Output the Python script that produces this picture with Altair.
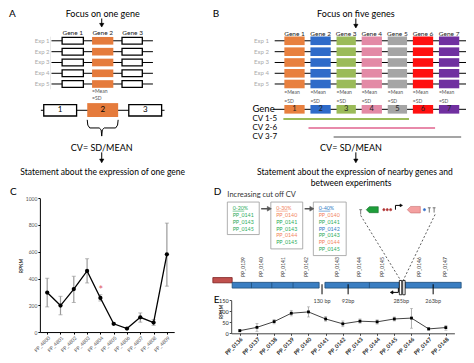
import altair as alt
import pandas as pd

W, H = 458, 347
SX, SY = W / 474, H / 363
FONT = "Lato"

# ---------------- data ----------------
c_genes = ["PP_4800", "PP_4801", "PP_4802", "PP_4803", "PP_4804",
           "PP_4805", "PP_4806", "PP_4807", "PP_4808", "PP_4809"]
c_mean = [295, 198, 321, 457, 255, 62, 26, 110, 71, 581]
c_low = [188, 129, 221, 367, 232, 55, 20, 74, 50, 343]
c_high = [402, 267, 417, 548, 279, 69, 32, 143, 93, 814]
c_ticks = [0, 200, 400, 600, 800, 1000]

e_genes = ["PP_0136", "PP_0137", "PP_0138", "PP_0139", "PP_0140", "PP_0141", "PP_0142",
           "PP_0143", "PP_0144", "PP_0145", "PP_0146", "PP_0147", "PP_0148"]
e_mean = [12, 27, 53, 91, 97, 65, 43, 55, 52, 65, 69, 20, 26]
e_low = [7, 9, 43, 79, 74, 55, 30, 46, 42, 56, 23, 14, 14]
e_high = [17, 45, 63, 104, 120, 76, 56, 65, 61, 74, 113, 26, 36]
e_ticks = [0, 50, 100, 150]

exp_labels = ["Exp 1", "Exp 2", "Exp 3", "Exp 4", "Exp 5"]
a_genes = ["Gene 1", "Gene 2", "Gene 3"]
b_genes = ["Gene 1", "Gene 2", "Gene 3", "Gene 4", "Gene 5", "Gene 6", "Gene 7"]
b_colors = ["#E8803F", "#2F6BC9", "#9BBB59", "#E38AA6", "#A5A5A5", "#FF1010", "#7030A0"]
cv_labels = ["CV 1-5", "CV 2-6", "CV 3-7"]
cv_colors = ["#9BBB59", "#E88AAA", "#A5A5A5"]
d_boxes = [
    [("0-20%", "g"), ("PP_0141", "g"), ("PP_0143", "g"), ("PP_0145", "g")],
    [("0-30%", "o"), ("PP_0140", "o"), ("PP_0141", "g"), ("PP_0143", "g"), ("PP_0144", "o"), ("PP_0145", "g")],
    [("0-40%", "b"), ("PP_0140", "o"), ("PP_0141", "g"), ("PP_0142", "b"), ("PP_0143", "g"), ("PP_0144", "o"), ("PP_0145", "g")],
]
d_text_colors = {"g": "#2EAD5B", "o": "#F2855E", "b": "#2F7BC4"}
d_gene_labels = ["PP_0139", "PP_0140", "PP_0141", "PP_0142", "PP_0143",
                 "PP_0144", "PP_0145", "PP_0146", "PP_0147"]
d_gap_labels = ["130 bp", "92bp", "285bp", "263bp"]

ORANGE = "#E57B3C"

# ---------------- diagram primitives (image coordinates) ----------------
texts, rects, rules_under, rules_over, dashed, lines, points = [], [], [], [], [], [], []


def T(x, y, t, s=8, c="#000000", al="center", a=0, w="normal"):
    texts.append(dict(x=x, y=y, t=t, s=s, c=c, al=al, a=a, w=w))


def R(x, y, x2, y2, f="#ffffff", st="#000000", sw=1.0):
    rects.append(dict(x=x, y=y, x2=x2, y2=y2, f=f, st=st, sw=sw))


def L(store, x, y, x2, y2, c="#000000", sw=1.0):
    store.append(dict(x=x, y=y, x2=x2, y2=y2, c=c, sw=sw))


def P(x, y, sh, sz, f="#000000", st="#000000"):
    points.append(dict(x=x, y=y, sh=sh, sz=sz, f=f, st=st))


def PL(pid, pts, c="#000000"):
    for k, (x, y) in enumerate(pts):
        lines.append(dict(id=pid, k=k, x=x, y=y, c=c))


rows = [34.3, 45.7, 57, 68.3, 79.5]

# ----- Panel A -----
T(1, 6.5, "A", 10, al="left")
T(98, 6, "Focus on one gene", 9)
L(rules_over, 97, 11, 97, 17)
P(97, 18, "triangle-down", 18)
for gx, g in zip([67, 98, 129], a_genes):
    T(gx, 26, g, 6.5, "#222222")
L(rules_under, 44, 30, 44, 85, "#E4E4E4", 0.8)
for r, lab in zip(rows, exp_labels):
    T(43, r, lab, 6, "#AAAAAA", al="right")
    L(rules_under, 45, r, 150, r)
    R(56, r - 3.5, 78, r + 3.5, "#ffffff", "#000000", 1.3)
    R(87, r - 4, 109, r + 4, ORANGE, "transparent", 0)
    R(118, r - 3.5, 139, r + 3.5, "#ffffff", "#000000", 1.3)
T(87, 86.5, "=Mean", 5, "#555555", al="left")
T(87, 94.5, "=SD", 5, "#555555", al="left")
L(rules_under, 34, 107, 162, 107)
R(37, 101, 71, 113, "#ffffff", "#000000", 1.3)
R(82, 99.5, 114, 114, ORANGE, "transparent", 0)
R(125, 101, 159, 113, "#ffffff", "#000000", 1.3)
T(54, 107, "1", 8)
T(98, 107, "2", 8)
T(142, 107, "3", 8)
PL("braceL", [(82, 117), (82.6, 122.5), (84.6, 125.5), (94.4, 125.5), (96.4, 127.5), (97, 134)])
PL("braceR", [(114, 117), (113.4, 122.5), (111.4, 125.5), (99.6, 125.5), (97.6, 127.5), (97, 134)])
T(97, 146, "CV= SD/MEAN", 9)
L(rules_over, 97, 151, 97, 159)
P(97, 160, "triangle-down", 18)
T(98, 172, "Statement about the expression of one gene", 8.5)

# ----- Panel B -----
T(212, 6.5, "B", 10, al="left")
T(360, 6, "Focus on five genes", 9)
L(rules_over, 360, 11, 360, 18)
P(360, 19, "triangle-down", 18)
bx = [(286, 307), (313, 334), (340, 360), (366, 387), (393, 413), (419, 440), (446, 467)]
for (x0, x1), g in zip(bx, b_genes):
    T((x0 + x1) / 2, 27, g, 6.5, "#222222")
for r, lab in zip(rows, exp_labels):
    T(270, r, lab, 6, "#AAAAAA", al="right")
    L(rules_under, 276, r, 474, r)
    for (x0, x1), col in zip(bx, b_colors):
        R(x0, r - 4.5, x1, r + 4.5, col, "transparent", 0)
for (x0, x1) in bx:
    T(x0, 88, "=Mean", 5, "#555555", al="left")
    T(x0, 97, "=SD", 5, "#555555", al="left")
T(253, 106, "Gene", 9.5, al="left")
L(rules_under, 274, 106, 474, 106)
for i, ((x0, x1), col) in enumerate(zip(bx, b_colors)):
    R(x0, 101.5, x1, 110.5, col, "transparent", 0)
    T((x0 + x1) / 2, 106, str(i + 1), 7.5, "#222222")
cv_y = [116, 125.5, 135]
cv_x = [(285, 415), (311, 442), (337, 469)]
for lab, yy, (x0, x1), col in zip(cv_labels, cv_y, cv_x, cv_colors):
    T(253, yy, lab, 8, al="left")
    L(rules_over, x0, yy, x1, yy, col, 2)
T(355, 146, "CV= SD/MEAN", 9)
L(rules_over, 360, 151, 360, 159)
P(360, 160, "triangle-down", 18)
T(359, 172, "Statement about the expression of nearby genes and", 8.5)
T(355, 183, "between experiments", 8.5)

# ----- Panel C -----
T(2, 192, "C", 10, al="left")
T(13, 270, "RPKM", 5, "#333333", a=270, w="bold")
T(96, 296, "*", 11, "#E05A6A")

# ----- Panel D -----
T(213, 192, "D", 10, al="left")
T(227, 196, "Increasing cut off CV", 7.5, "#333333", al="left")
box_geo = [(227, 260, 237), (272, 305, 252), (316, 350, 259)]
for (x0, x1, y1), items in zip(box_geo, d_boxes):
    R(x0, 203, x1, y1, "#ffffff", "#9A9A9A", 0.8)
    for i, (t, ck) in enumerate(items):
        T(x0 + 5.5, 209.5 + 7.1 * i, t, 5.3, d_text_colors[ck], al="left")
        if i == 0:
            L(rules_over, x0 + 5.5, 212.5, x0 + 17.5, 212.5, d_text_colors[ck], 0.6)
L(rules_over, 262, 210, 269, 210, "#555555", 1.5)
P(270.5, 210, "triangle-right", 22, "#555555", "#555555")
L(rules_over, 307, 210, 313, 210, "#555555", 1.5)
P(314.5, 210, "triangle-right", 22, "#555555", "#555555")
# gene cluster sketch
L(rules_over, 365, 211, 365, 216, "#555555", 0.8)
L(rules_over, 363.5, 211, 366.5, 211, "#555555", 0.8)
P(377, 211, "M -1 0 L -0.5 -0.5 L 1 -0.5 L 1 0.5 L -0.5 0.5 Z", 144, "#1E9E3A", "#136B26")
for dx in [389, 392.5, 396]:
    P(dx, 211, "circle", 5, "#B03030", "#B03030")
PL("prom", [(401, 211), (401, 206.5), (406, 206.5)])
P(407, 206.5, "triangle-right", 8)
P(420, 211, "M -1 0 L -0.5 -0.5 L 1 -0.5 L 1 0.5 L -0.5 0.5 Z", 169, "#F4A0A0", "#C77070")
P(431, 211, "circle", 5, "#2F6BC9", "#2F6BC9")
for tx in [436, 441]:
    L(rules_over, tx, 209, tx, 214, "#555555", 0.8)
    L(rules_over, tx - 1.5, 209, tx + 1.5, 209, "#555555", 0.8)
L(dashed, 365, 217, 407, 286, "#333333", 0.8)
L(dashed, 442, 216, 408.5, 286, "#333333", 0.8)
for gx, lab in zip([243.5, 262, 284.5, 308.5, 340, 363.5, 387.5, 425, 452.5], d_gene_labels):
    T(gx, 271, lab, 5, "#333333", a=270)
R(212, 282, 232, 287.5, "#C0504D", "#7F2020", 0.8)
for x0, x1 in [(232, 322), (328, 405), (411, 469)]:
    R(x0, 287, x1, 293, "#3A7EC2", "#1F4E79", 0.8)
R(405, 285, 407.5, 300, "#ffffff", "#000000", 0.8)
R(408.5, 285, 411, 300, "#ffffff", "#000000", 0.8)
for dx in [252, 273, 295, 374]:
    L(rules_over, dx, 287, dx, 293, "#1F4E79", 0.8)
for dx in [325, 352, 440]:
    L(rules_over, dx, 289, dx, 299.5, "#000000", 1)
PL("bent", [(404, 293), (404, 297.5), (398, 297.5)])
P(397, 297.5, "triangle-left", 10)
for gx, lab in zip([325, 352, 407, 440], d_gap_labels):
    T(gx, 306, lab, 5.5, "#444444")

# ----- Panel E -----
T(213, 305, "E", 10, al="left")
T(220, 318, "RPKM", 5, "#333333", a=270, w="bold")

# ---------------- build layers ----------------
PX = alt.Scale(domain=[0, 474], range=[0, W], nice=False, zero=False)
PY = alt.Scale(domain=[0, 363], range=[0, H], nice=False, zero=False)


def xq(f="x"):
    return alt.X(f"{f}:Q", scale=PX, axis=None)


def yq(f="y"):
    return alt.Y(f"{f}:Q", scale=PY, axis=None)


layers = []

d_ru = pd.DataFrame(rules_under)
layers.append(alt.Chart(d_ru).mark_rule().encode(
    x=xq(), y=yq(), x2="x2:Q", y2="y2:Q",
    color=alt.Color("c:N", scale=None), strokeWidth=alt.StrokeWidth("sw:Q", scale=None)))

d_da = pd.DataFrame(dashed)
layers.append(alt.Chart(d_da).mark_rule(strokeDash=[2, 2]).encode(
    x=xq(), y=yq(), x2="x2:Q", y2="y2:Q",
    color=alt.Color("c:N", scale=None), strokeWidth=alt.StrokeWidth("sw:Q", scale=None)))

d_re = pd.DataFrame(rects)
layers.append(alt.Chart(d_re).mark_rect().encode(
    x=xq(), y=yq(), x2="x2:Q", y2="y2:Q",
    fill=alt.Fill("f:N", scale=None), stroke=alt.Stroke("st:N", scale=None),
    strokeWidth=alt.StrokeWidth("sw:Q", scale=None)))

d_ro = pd.DataFrame(rules_over)
layers.append(alt.Chart(d_ro).mark_rule().encode(
    x=xq(), y=yq(), x2="x2:Q", y2="y2:Q",
    color=alt.Color("c:N", scale=None), strokeWidth=alt.StrokeWidth("sw:Q", scale=None)))

d_li = pd.DataFrame(lines)
layers.append(alt.Chart(d_li).mark_line(strokeWidth=1).encode(
    x=xq(), y=yq(), detail="id:N", order="k:Q",
    color=alt.Color("c:N", scale=None)))

d_pt = pd.DataFrame(points)
layers.append(alt.Chart(d_pt).mark_point(filled=True, opacity=1, strokeWidth=0.6).encode(
    x=xq(), y=yq(), shape=alt.Shape("sh:N", scale=None), size=alt.Size("sz:Q", scale=None),
    fill=alt.Fill("f:N", scale=None), stroke=alt.Stroke("st:N", scale=None)))

d_tx = pd.DataFrame(texts)
for (al, w), sub in d_tx.groupby(["al", "w"]):
    layers.append(alt.Chart(sub).mark_text(align=al, baseline="middle", font=FONT, fontWeight=w).encode(
        x=xq(), y=yq(), text="t:N", color=alt.Color("c:N", scale=None),
        size=alt.Size("s:Q", scale=None), angle=alt.Angle("a:Q", scale=None)))

# ----- Panel C chart -----
c_df = pd.DataFrame({"gene": c_genes, "mean": c_mean, "low": c_low, "high": c_high})
cxs = alt.Scale(type="point", domain=c_genes, range=[33 * SX, 172 * SX], padding=0.55)
cys = alt.Scale(domain=[0, 1000], range=[339 * SY, 199 * SY], nice=False, zero=False)
cx_axis = alt.Axis(orient="bottom", offset=339 * SY - H, labelAngle=-45, labelFontSize=5,
                   labelColor="#555555", labelFont=FONT, tickSize=2, tickColor="#000000",
                   domainColor="#000000", labelPadding=1, title=None, grid=False)
cy_axis = alt.Axis(orient="left", offset=-33 * SX, values=c_ticks, format="d", labelFontSize=5,
                   labelColor="#555555", labelFont=FONT, tickSize=2, tickColor="#000000",
                   domainColor="#000000", labelPadding=1, title=None, grid=False)
cbase = alt.Chart(c_df)
layers.append(cbase.mark_rule(color="#9A9A9A", strokeWidth=1.2).encode(
    x=alt.X("gene:N", scale=cxs, axis=None), y=alt.Y("low:Q", scale=cys, axis=None), y2="high:Q"))
layers.append(cbase.mark_tick(color="#9A9A9A", size=4, thickness=1).encode(
    x=alt.X("gene:N", scale=cxs, axis=None), y=alt.Y("low:Q", scale=cys, axis=None)))
layers.append(cbase.mark_tick(color="#9A9A9A", size=4, thickness=1).encode(
    x=alt.X("gene:N", scale=cxs, axis=None), y=alt.Y("high:Q", scale=cys, axis=None)))
layers.append(cbase.mark_line(color="#000000", strokeWidth=1.3).encode(
    x=alt.X("gene:N", scale=cxs, axis=cx_axis, sort=c_genes),
    y=alt.Y("mean:Q", scale=cys, axis=cy_axis)))
layers.append(cbase.mark_point(filled=True, color="#000000", size=18, opacity=1).encode(
    x=alt.X("gene:N", scale=cxs, axis=None), y=alt.Y("mean:Q", scale=cys, axis=None)))

# ----- Panel E chart -----
e_df = pd.DataFrame({"gene": e_genes, "mean": e_mean, "low": e_low, "high": e_high})
exs = alt.Scale(type="point", domain=e_genes, range=[231 * SX, 462 * SX], padding=0.5)
eys = alt.Scale(domain=[0, 150], range=[340.3 * SY, 305.7 * SY], nice=False, zero=False)
ex_axis = alt.Axis(orient="bottom", offset=340.3 * SY - H, labelAngle=-45, labelFontSize=5.5,
                   labelColor="#222222", labelFont=FONT, labelFontWeight="bold", tickSize=2,
                   tickColor="#444444", domainColor="#444444", labelPadding=1, title=None, grid=False)
ey_axis = alt.Axis(orient="left", offset=-231 * SX, values=e_ticks, labelFontSize=5.5,
                   labelColor="#222222", labelFont=FONT, tickSize=2, tickColor="#444444",
                   domainColor="#444444", labelPadding=1, title=None, grid=False)
ebase = alt.Chart(e_df)
layers.append(ebase.mark_rule(color="#9A9A9A", strokeWidth=0.8).encode(
    x=alt.X("gene:N", scale=exs, axis=None), y=alt.Y("low:Q", scale=eys, axis=None), y2="high:Q"))
layers.append(ebase.mark_tick(color="#9A9A9A", size=3, thickness=0.8).encode(
    x=alt.X("gene:N", scale=exs, axis=None), y=alt.Y("low:Q", scale=eys, axis=None)))
layers.append(ebase.mark_tick(color="#9A9A9A", size=3, thickness=0.8).encode(
    x=alt.X("gene:N", scale=exs, axis=None), y=alt.Y("high:Q", scale=eys, axis=None)))
layers.append(ebase.mark_line(color="#444444", strokeWidth=1).encode(
    x=alt.X("gene:N", scale=exs, axis=ex_axis, sort=e_genes),
    y=alt.Y("mean:Q", scale=eys, axis=ey_axis)))
layers.append(ebase.mark_point(filled=True, color="#000000", size=8, opacity=1, shape="square").encode(
    x=alt.X("gene:N", scale=exs, axis=None), y=alt.Y("mean:Q", scale=eys, axis=None)))

chart = alt.layer(*layers).resolve_scale(x="independent", y="independent").properties(
    width=W, height=H, autosize=alt.AutoSizeParams(type="none"), padding=0
).configure_view(stroke=None)

chart.save("out.html", embed_options={"renderer": "svg", "actions": False})
